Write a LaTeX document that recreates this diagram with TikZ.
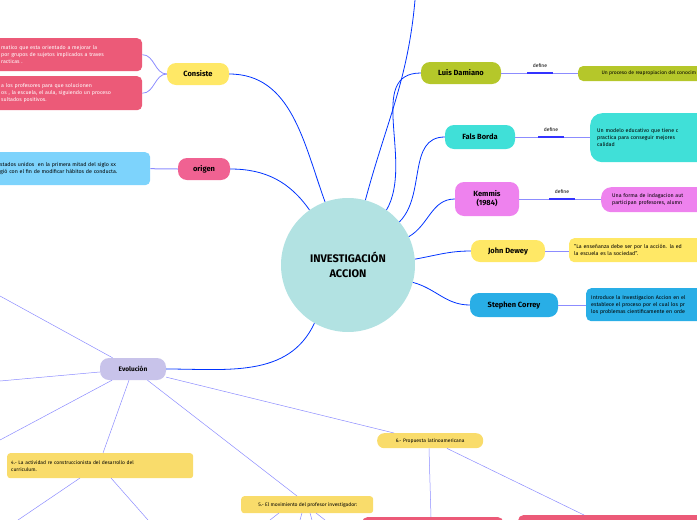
\documentclass[tikz,border=0pt]{standalone}
\usepackage{fontspec}
\setmainfont{Fira Sans}
\begin{document}
\begin{tikzpicture}[x=1pt,y=-1pt,
 topic/.style={rounded corners=9pt,font=\bfseries\fontsize{7.5}{9}\selectfont,align=center,inner sep=0pt},
 note/.style={rounded corners=5pt,font=\fontsize{5.3}{7}\selectfont,align=left,anchor=north west,inner sep=4pt},
 conn/.style={blue!80!cyan,line width=0.8pt},
 thin/.style={blue!45,line width=0.5pt},
 lab/.style={font=\fontsize{5}{6}\selectfont}]
\useasboundingbox (0,0) rectangle (697,520);
\clip (0,0) rectangle (697,520);
\definecolor{cpink}{HTML}{EC5A78}\definecolor{cyel}{HTML}{FFE866}
\definecolor{cgreen}{HTML}{B5C72A}\definecolor{cteal}{HTML}{40E0D8}
\definecolor{cviol}{HTML}{EE82EE}\definecolor{cblue}{HTML}{29AEE6}
\definecolor{clblue}{HTML}{7DD3FC}\definecolor{cpink2}{HTML}{F06292}
\definecolor{clav}{HTML}{C8C3EA}\definecolor{cgold}{HTML}{F9DC6B}
\definecolor{ccen}{HTML}{B2E2E2}
\node[circle,fill=ccen,minimum size=134pt,font=\bfseries\fontsize{11}{15}\selectfont,align=center] (c) at (348,265) {INVESTIGACIÓN\\ACCION};
% nodes
\node[topic,fill=cyel,minimum width=62pt,minimum height=22pt] (cons) at (198,74) {Consiste};
\node[topic,fill=cpink2,minimum width=52pt,minimum height=22pt] (orig) at (204,169) {origen};
\node[topic,fill=cgreen,minimum width=80pt,minimum height=22pt] (luis) at (461,73) {Luis Damiano};
\node[topic,fill=cteal,minimum width=70pt,minimum height=24pt] (fals) at (480,137) {Fals Borda};
\node[topic,fill=cviol,minimum width=64pt,minimum height=34pt] (kem) at (487,199) {Kemmis\\(1984)};
\node[topic,fill=cyel,minimum width=74pt,minimum height=22pt] (dew) at (508,251) {John Dewey};
\node[topic,fill=cblue,minimum width=88pt,minimum height=24pt] (cor) at (514,305) {Stephen Correy};
\node[topic,fill=clav,minimum width=66pt,minimum height=22pt,font=\bfseries\fontsize{6.5}{8}\selectfont] (evo) at (133,369) {Evolución};
\coordinate (up) at (415,0);
% notes
\node[note,fill=cpink,text=white,minimum width=160pt,minimum height=33pt,text width=150pt] (p1) at (-18,38) {\hspace*{14pt}matico que esta orientado a mejorar la\\ \hspace*{14pt}por grupos de sujetos implicados a traves\\ \hspace*{14pt}racticas .};
\node[note,fill=cpink,text=white,minimum width=160pt,minimum height=34pt,text width=150pt] (p2) at (-18,76) {\hspace*{14pt}a los profesores para que solucionen\\ \hspace*{14pt}os , la escuela, el aula, siguiendo un proceso\\ \hspace*{14pt}sultados positivos.};
\node[note,fill=clblue,minimum width=168pt,minimum height=33pt,text width=160pt] (ob) at (-18,152) {\hspace*{14pt}stados unidos\ \ en la primera mitad del siglo xx\\ \hspace*{14pt}gió con el fin de modificar hábitos de conducta.};
\node[note,fill=cgreen,minimum width=140pt,minimum height=15pt,inner sep=2pt,anchor=west,font=\fontsize{5}{6}\selectfont] (lb) at (578,73.5) {\ Un proceso de reapropiacion del conocim};
\node[note,fill=cteal,minimum width=130pt,minimum height=49pt,rounded corners=12pt,text width=120pt] (fb) at (590,113) {\hspace*{2pt}Un modelo educativo que tiene c\\ \hspace*{2pt}practica para conseguir mejores\\ \hspace*{2pt}calidad};
\node[note,fill=cviol,minimum width=130pt,minimum height=25pt,rounded corners=10pt,text width=120pt] (kb) at (601,187) {\hspace*{6pt}Una forma de indagacion aut\\ \hspace*{6pt}participan profesores, alumn};
\node[note,fill=cyel,minimum width=150pt,minimum height=24pt,text width=140pt] (db) at (569,238) {"La enseñanza debe ser por la acción. la ed\\la escuela es la sociedad".};
\node[note,fill=cblue,minimum width=150pt,minimum height=33pt,text width=140pt] (sb) at (586,288) {Introduce la Investigacion Accion en el\\establece el proceso por el cual los pr\\los problemas cientificamente en orde};
\node[note,fill=cgold,minimum width=186pt,minimum height=25pt,text width=178pt,font=\fontsize{5}{7}\selectfont,rounded corners=3pt] (e4) at (7,453) {4.- La actividad re construccionista del desarrollo del\\curriculum.};
\node[note,fill=cgold,minimum width=132pt,minimum height=17pt,inner sep=2pt,font=\fontsize{5}{6}\selectfont,rounded corners=3pt] (e5) at (241,496) {\ 5.- El movimiento del profesor investigador:};
\node[note,fill=cgold,minimum width=106pt,minimum height=15pt,inner sep=2pt,font=\fontsize{5}{6}\selectfont,rounded corners=7pt,align=center,text width=100pt] (e6) at (377,433) {6.- Propuesta latinoamericana};
\node[note,fill=cpink,minimum width=141pt,minimum height=10pt,inner sep=0pt] (q1) at (362,517) {};
\node[note,fill=cpink,minimum width=190pt,minimum height=10pt,inner sep=0pt] (q2) at (518,515) {};
% connectors
\draw[conn] (c.110) to[out=110,in=0] (cons.east);
\draw[conn] (c.125) to[out=125,in=0] (orig.east);
\draw[conn] (c.75) to[out=75,in=-95] (up);
\draw[conn] (c.55) to[out=60,in=180] (luis.west);
\draw[conn] (c.40) to[out=45,in=180] (fals.west);
\draw[conn] (c.25) to[out=30,in=180] (kem.west);
\draw[conn] (c.5) to[out=10,in=180] (dew.west);
\draw[conn] (c.-15) to[out=-15,in=180] (cor.west);
\draw[conn] (c.-120) to[out=-115,in=0] (evo.east);
\draw[thin,line width=0.8pt] (cons.west) to[out=180,in=0] (p1.east);
\draw[thin,line width=0.8pt] (cons.west) to[out=180,in=0] (p2.east);
\draw[thin,line width=1pt] (orig.west) -- (ob.east);
\foreach \a/\b/\x in {luis/lb/540,fals/fb/551,kem/kb/562}{
 \draw[thin,line width=1pt] (\a.east) -- (\a.east-|\b.west);
 \draw[blue!80,line width=1.2pt] ([xshift=-13pt]\x,0|-\a.east) -- ([xshift=13pt]\x,0|-\a.east);
 \node[lab] at ([yshift=7pt]\x,0|-\a.east) {define};}
\draw[thin,line width=1pt] (dew.east) -- (dew.east-|db.west);
\draw[thin,line width=1pt] (cor.east) -- (cor.east-|sb.west);
\coordinate (l1) at (0,296);\coordinate (l2) at (0,381);\coordinate (l3) at (0,440);
\draw[thin] (evo) -- (l1); \draw[thin] (evo) -- (l2); \draw[thin] (evo) -- (l3);
\draw[thin] (evo) -- (103,453); \draw[thin] (evo) -- (297,496); \draw[thin] (evo) -- (394,433);
\draw[thin] (80,478) -- (18,520); \draw[thin] (111,478) -- (148,520);
\foreach \x/\y in {279/270,302/300,310/312,316/325}{\draw[thin] (\x,513) -- (\y,520);}
\draw[thin] (e6.south-|429,0) -- (431,517);
\draw[thin] (e6.south-|447,0) -- (584,515);
\end{tikzpicture}
\end{document}
